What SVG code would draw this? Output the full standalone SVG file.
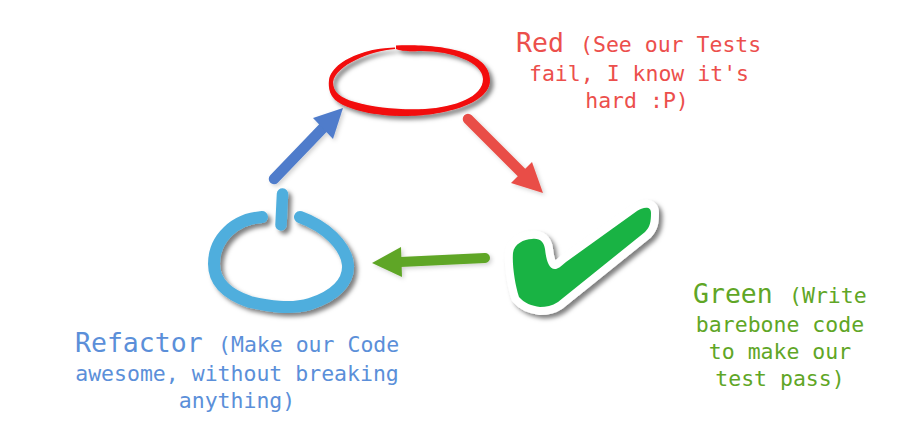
<svg xmlns="http://www.w3.org/2000/svg" width="910" height="426" viewBox="0 0 910 426">
<defs>
<filter id="shadow" x="-20%" y="-20%" width="150%" height="150%"><feDropShadow dx="3.5" dy="3.5" stdDeviation="2.2" flood-color="#000" flood-opacity="0.5"/></filter>
<filter id="soft" x="-20%" y="-20%" width="150%" height="150%"><feDropShadow dx="2" dy="2" stdDeviation="2" flood-color="#000" flood-opacity="0.18"/></filter>
<path id="check" d="M513,253C514,244 524,239 532,239C540,238 544,242 545,249C546,258 548,269 555,269C558,269 560,267 566,262L637,211C642,208 651,205 651,213C651,222 650,227 645,232L558,302C552,306 546,307 540,307C532,306 524,303 519,297C515,285 512,265 513,253Z"/>
</defs>
<style>
text{font-family:"DejaVu Sans Mono","Liberation Mono",monospace;font-size:21.5px;text-anchor:middle}
.title{font-size:26.5px}
.s{text-anchor:start}
.red{fill:#ec4f4c}.blue{fill:#5b8fd9}.green{fill:#5fa626}
.line{fill:none;stroke-linecap:round}
</style>
<rect width="910" height="426" fill="#fff"/>
<g id="connectors" filter="url(#soft)">
<g id="refactor-to-red"><path class="line" d="M274,179L323,128" stroke="#4f7ccb" stroke-width="10.500"/><path d="M343,108L313,118L333,139Z" fill="#4f7ccb"/></g>
<g id="red-to-green"><path class="line" d="M468,119L522,173" stroke="#e94e47" stroke-width="10.500"/><path d="M543,193L532,162L511,183Z" fill="#e94e47"/></g>
<g id="green-to-refactor"><path class="line" d="M485,258L400,262" stroke="#5fa626" stroke-width="10"/><path d="M372,263L401,247L402,277Z" fill="#5fa626"/></g>
</g>
<g id="red">
<path filter="url(#shadow)" fill="#f20808" fill-rule="evenodd" d="M396,45.5C430,44 490,48 490,80C490,105 440,116 405,116C375,116 350,110 338,102C330,97 328,88 329,80C331,68 345,58 365,52C375,49 385,48 395,47.5L395,49C370,51 336,65 333,82C333,92 340,98 355,102C375,108 400,110 425,109C455,107 483,97 483,79C483,62 450,50 418,51C410,51.5 400,51 396,49Z"/>
<text class="title s red" x="516" y="52">Red</text>
<text class="s red" x="580" y="52">(See our Tests</text>
<text class="red" x="639" y="81">fail, I know it's</text>
<text class="red" x="637" y="108">hard :P)</text>
</g>
<g id="green">
<use href="#check" filter="url(#shadow)" fill="#fff" stroke="#fff" stroke-width="16" stroke-linejoin="round"/>
<use href="#check" fill="#19b344"/>
<text class="title s green" x="693" y="303">Green</text>
<text class="s green" x="789" y="303">(Write</text>
<text class="green" x="780" y="332">barebone code</text>
<text class="green" x="780" y="359">to make our</text>
<text class="green" x="780" y="386">test pass)</text>
</g>
<g id="refactor">
<g filter="url(#shadow)">
<path class="line" stroke="#50aedd" stroke-width="12" d="M262,217C235,219 214,238 214,264C214,285 232,296 250,302C268,306 290,310 310,304C335,296 349,282 348,265C346,245 325,226 300,217"/>
<path class="line" stroke="#50aedd" stroke-width="11.500" d="M282.500,194L281,225"/>
</g>
<text class="title s blue" x="75" y="352">Refactor</text>
<text class="s blue" x="218" y="352">(Make our Code</text>
<text class="blue" x="237" y="381">awesome, without breaking</text>
<text class="blue" x="237" y="408">anything)</text>
</g>
</svg>
